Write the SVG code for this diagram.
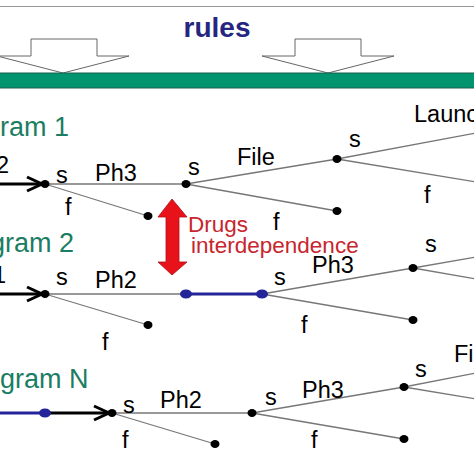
<svg xmlns="http://www.w3.org/2000/svg" width="474" height="474" viewBox="0 0 474 474">
<style>
text{font-family:"Liberation Sans",Arial,sans-serif}
.lbl{font-size:23.5px;fill:#000}
.prog{font-size:27px;fill:#1b7d63}
.red{font-size:22.5px;fill:#c8262e}
.g{stroke:#777;stroke-width:1.3;fill:none}
.b{stroke:#000;stroke-width:3;fill:none}
.bl{stroke:#24249a;stroke-width:3;fill:none}
.dot{fill:#000}
.bdot{fill:#24249a}
.ra{fill:#fff;stroke:#666;stroke-width:1}
</style>
<rect x="0" y="0" width="474" height="474" fill="#fff"/>
<line x1="0" y1="6.5" x2="474" y2="6.5" stroke="#999" stroke-width="1"/>
<text x="217" y="37" text-anchor="middle" font-size="28" font-weight="bold" fill="#262680">rules</text>
<g id="rule-arrow-1"><polygon class="ra" points="31,39 97,39 97,56 129,56 63,73 -3,56 31,56"/></g>
<g id="rule-arrow-2"><polygon class="ra" points="295,39 361,39 361,56 394,56 328,73 262,56 295,56"/></g>
<rect id="rules-bar" x="-1" y="73" width="476" height="15" fill="#00956e" stroke="#1f5f4f" stroke-width="1"/>

<g id="program-labels">
<text class="prog" x="-57" y="136">Program 1</text>
<text class="prog" x="-52" y="252">Program 2</text>
<text class="prog" x="-42" y="388">Program N</text>
</g>

<g id="connectors">
<!-- row 1 -->
<line class="b" x1="0" y1="184" x2="42" y2="184"/>
<path class="b" d="M27,177 L42,184 L27,191"/>
<line class="g" x1="45" y1="184" x2="186" y2="184"/>
<line class="g" x1="45" y1="184" x2="148" y2="216"/>
<line class="g" x1="186" y1="184" x2="337" y2="159"/>
<line class="g" x1="186" y1="184" x2="337" y2="211"/>
<line class="g" x1="337" y1="159" x2="476" y2="133"/>
<line class="g" x1="337" y1="159" x2="476" y2="182"/>
<!-- row 2 -->
<line class="b" x1="0" y1="294" x2="42" y2="294"/>
<path class="b" d="M27,287 L42,294 L27,301"/>
<line class="g" x1="45" y1="294" x2="186" y2="294"/>
<line class="g" x1="45" y1="294" x2="148" y2="325"/>
<line class="bl" x1="186" y1="294" x2="262" y2="294"/>
<line class="g" x1="262" y1="294" x2="413" y2="268"/>
<line class="g" x1="262" y1="294" x2="413" y2="320"/>
<line class="g" x1="413" y1="268" x2="476" y2="257"/>
<line class="g" x1="413" y1="268" x2="476" y2="279"/>
<!-- row N -->
<line class="bl" x1="0" y1="413" x2="45" y2="413"/>
<line class="b" x1="45" y1="413" x2="109" y2="413"/>
<path class="b" d="M94,406 L109,413 L94,420"/>
<line class="g" x1="112" y1="413" x2="252" y2="413"/>
<line class="g" x1="112" y1="413" x2="215" y2="444"/>
<line class="g" x1="252" y1="413" x2="404" y2="387"/>
<line class="g" x1="252" y1="413" x2="404" y2="439"/>
<line class="g" x1="404" y1="387" x2="476" y2="373"/>
<line class="g" x1="404" y1="387" x2="476" y2="399"/>
</g>

<g id="nodes-row1">
<ellipse class="dot" cx="45" cy="184" rx="4.5" ry="4"/>
<ellipse class="dot" cx="148" cy="216" rx="4.5" ry="4"/>
<ellipse class="dot" cx="186" cy="184" rx="4.5" ry="4"/>
<ellipse class="dot" cx="337" cy="159" rx="4.5" ry="4"/>
<ellipse class="dot" cx="337" cy="211" rx="4.5" ry="4"/>
</g>
<g id="nodes-row2">
<ellipse class="dot" cx="45" cy="294" rx="4.5" ry="4"/>
<ellipse class="dot" cx="148" cy="325" rx="4.5" ry="4"/>
<ellipse class="bdot" cx="186" cy="294" rx="6" ry="4.5"/>
<ellipse class="bdot" cx="262" cy="294" rx="6" ry="4.5"/>
<ellipse class="dot" cx="413" cy="268" rx="4.5" ry="4"/>
<ellipse class="dot" cx="413" cy="320" rx="4.5" ry="4"/>
</g>
<g id="nodes-rowN">
<ellipse class="bdot" cx="45" cy="413" rx="6" ry="4.5"/>
<ellipse class="dot" cx="112" cy="413" rx="4.5" ry="4"/>
<ellipse class="dot" cx="215" cy="444" rx="4.5" ry="4"/>
<ellipse class="dot" cx="252" cy="413" rx="4.5" ry="4"/>
<ellipse class="dot" cx="404" cy="387" rx="4.5" ry="4"/>
<ellipse class="dot" cx="404" cy="439" rx="4.5" ry="4"/>
</g>

<g id="labels-row1">
<text class="lbl" x="9" y="173" text-anchor="end">Ph2</text>
<text class="lbl" x="56" y="183">s</text>
<text class="lbl" x="95" y="181">Ph3</text>
<text class="lbl" x="65" y="215">f</text>
<text class="lbl" x="188" y="175">s</text>
<text class="lbl" x="237" y="165">File</text>
<text class="lbl" x="273" y="230">f</text>
<text class="lbl" x="349" y="147">s</text>
<text class="lbl" x="414" y="122">Launch</text>
<text class="lbl" x="424" y="203">f</text>
</g>
<g id="labels-row2">
<text class="lbl" x="6" y="283" text-anchor="end">Ph1</text>
<text class="lbl" x="56" y="285">s</text>
<text class="lbl" x="95" y="288">Ph2</text>
<text class="lbl" x="102" y="350">f</text>
<text class="lbl" x="274" y="285">s</text>
<text class="lbl" x="312" y="273">Ph3</text>
<text class="lbl" x="301" y="333">f</text>
<text class="lbl" x="425" y="252">s</text>
</g>
<g id="labels-rowN">
<text class="lbl" x="123" y="413">s</text>
<text class="lbl" x="160" y="408">Ph2</text>
<text class="lbl" x="122" y="448">f</text>
<text class="lbl" x="265" y="405">s</text>
<text class="lbl" x="302" y="398">Ph3</text>
<text class="lbl" x="311" y="448">f</text>
<text class="lbl" x="415" y="377">s</text>
<text class="lbl" x="454" y="362">File</text>
</g>

<g id="drugs-interdependence">
<polygon points="172,199 187,217 179,217 179,262 187,262 172,275 158,262 166,262 166,217 158,217" fill="#e8121a" stroke="#b01018" stroke-width="0.8"/>
<text class="red" x="188" y="232">Drugs</text>
<text class="red" x="191" y="253">interdependence</text>
</g>
</svg>
